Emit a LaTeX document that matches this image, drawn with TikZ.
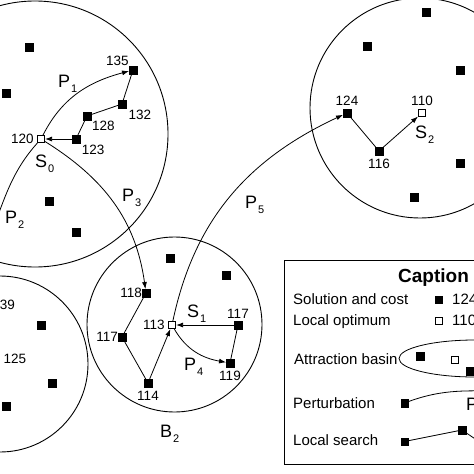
\documentclass[tikz,border=0pt]{standalone}
\usepackage{fontspec}
\setmainfont{Liberation Sans}
\usetikzlibrary{arrows.meta, shapes}

\newcommand{\pname}[2]{#1\kern1pt\raisebox{-5pt}{\fontsize{11}{11}\selectfont #2}}

\begin{document}
\begin{tikzpicture}[x=1pt, y=-1pt]
\tikzstyle{sol} = [rectangle, draw, fill=black, minimum size=7.5pt, inner sep=0pt]
\tikzstyle{opt} = [rectangle, draw, fill=white, minimum size=7.5pt, inner sep=0pt, line width=0.6pt]
\tikzstyle{basin} = [draw, line width=0.9pt]
\tikzstyle{line} = [draw, line width=0.8pt]
\tikzstyle{arrow} = [draw, line width=0.8pt, -{Latex[length=7pt, width=5pt]}]
\tikzstyle{sym} = [font=\fontsize{18}{18}\selectfont, inner sep=0pt, anchor=base west]
\tikzstyle{cost} = [font=\fontsize{13.5}{13.5}\selectfont, inner sep=1pt]
\tikzstyle{legend} = [font=\fontsize{15}{15}\selectfont, inner sep=0pt, anchor=base west]

\useasboundingbox (0,0) rectangle (474,474);

% attraction basins
\draw [basin] (35,134) circle (133pt);
\draw [basin] (174.5,324.5) circle (87.5pt);
\draw [basin] (420,108) circle (110pt);
\draw [basin] (0,364) circle (88pt);

% other solutions
\foreach \p [count=\i] in {(29,47), (6,93), (49,201), (76,232),
    (426,12), (367,46), (460,70), (460,163), (414,197),
    (170,258), (226,275), (41,325), (52,383), (6,406)}
  \node [sol] (dot\i) at \p {};

% basin of S0
\node [opt, label={[cost, label distance=2pt]left:120}] (s0) at (41,139) {};
\node [sol, label={[cost, label distance=-1pt]above left:135}] (n135) at (133,70) {};
\node [sol, label={[cost, label distance=2pt]below right:132}] (n132) at (122,104) {};
\node [sol, label={[cost]below right:128}] (n128) at (87,116) {};
\node [sol, label={[cost, label distance=1pt]below right:123}] (n123) at (76,139) {};

% basin of S2
\node [sol, label={[cost, label distance=2pt]above:124}] (n124) at (347,113) {};
\node [sol, label={[cost, label distance=3pt]below:116}] (n116) at (379,151) {};
\node [opt, label={[cost, label distance=2pt]above:110}] (s2) at (422,113) {};

% basin of S1
\node [opt, label={[cost, label distance=2pt]left:113}] (s1) at (172,325) {};
\node [sol, label={[cost, label distance=-1pt]left:118}] (n118) at (146,293) {};
\node [sol, label={[cost, label distance=-1pt]left:117}] (n117a) at (122,337) {};
\node [sol, label={[cost, label distance=3pt]below:114}] (n114) at (148,383) {};
\node [sol, label={[cost, label distance=1pt]above:117}] (n117b) at (238,325) {};
\node [sol, label={[cost, label distance=3pt]below:119}] (n119) at (230,363) {};

% left basin
\node [cost, anchor=east] (t139) at (16,305) {139};
\node [cost] (t125) at (15,359) {125};

% names
\node [sym] (S0) at (35,167) {\pname{S}{0}};
\node [sym] (S1) at (187,317) {\pname{S}{1}};
\node [sym] (S2) at (415,138) {\pname{S}{2}};
\node [sym] (B2) at (160,437) {\pname{B}{2}};
\node [sym] (P1) at (58,87) {\pname{P}{1}};
\node [sym] (P2) at (5,223) {\pname{P}{2}};
\node [sym] (P3) at (122,201) {\pname{P}{3}};
\node [sym] (P4) at (184,370) {\pname{P}{4}};
\node [sym] (P5) at (245,208) {\pname{P}{5}};

% local searches
\path [line] (n135) -- (n132) -- (n128) -- (n123);
\path [arrow] (n123) -- (s0);
\path [line] (n124) -- (n116);
\path [arrow] (n116) -- (s2);
\path [line] (n118) -- (n117a) -- (n114);
\path [arrow] (n114) -- (s1);
\path [line] (n119) -- (n117b);
\path [arrow] (n117b) -- (s1);

% perturbations
\coordinate (p2end) at (-30,270);
\path [arrow] (s0) to[out=63, in=195] (n135);
\path [arrow] (s0) to[out=228, in=55] (p2end);
\path [arrow] (s0) to[out=-32, in=98] (n118);
\path [arrow] (s1) to[out=-60, in=170] (n119);
\path [arrow] (s1) to[out=78, in=205] (n124);

% caption
\draw [line] (284,260) rectangle (520,464);
\node [legend, font=\fontsize{19}{19}\selectfont\bfseries] (cap) at (398,282) {Caption};
\node [legend] (lsol) at (293,304) {Solution and cost};
\node [sol, minimum size=6.7pt] (ksol) at (439,299.5) {};
\node [legend] (ksolc) at (452,304) {124};
\node [legend] (lopt) at (293,325) {Local optimum};
\node [opt, minimum size=6.7pt] (kopt) at (439,320.5) {};
\node [legend] (koptc) at (452,325) {110};
\node [legend] (lbas) at (294,364) {Attraction basin};
\draw [line] (475,358.5) ellipse [x radius=76pt, y radius=18.5pt];
\node [sol] (ka) at (420,356) {};
\node [opt] (kb) at (455,360) {};
\node [sol] (kc) at (470,371) {};
\node [legend] (lper) at (293,408) {Perturbation};
\node [sol] (kp) at (404.5,403) {};
\coordinate (kpend) at (505,391);
\path [line] (kp) to[out=20, in=180] (kpend);
\node [sym] (kP) at (466,410) {P};
\node [legend] (lls) at (293,445) {Local search};
\node [sol] (kl1) at (404.5,441.5) {};
\node [sol] (kl2) at (462,430) {};
\coordinate (klend) at (490,449);
\path [line] (kl1) -- (kl2) -- (klend);
\end{tikzpicture}
\end{document}
